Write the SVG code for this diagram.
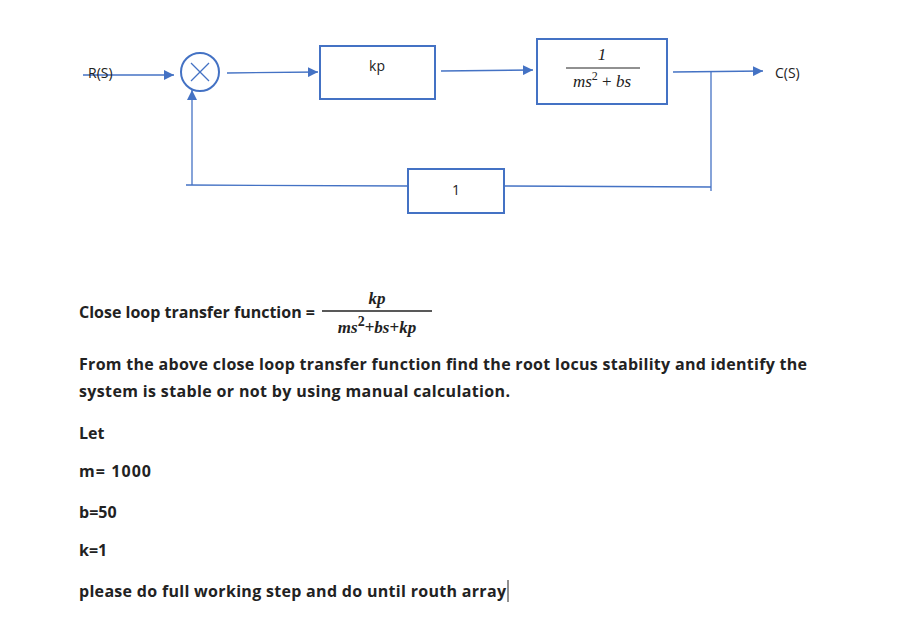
<svg xmlns="http://www.w3.org/2000/svg" width="914" height="631" viewBox="0 0 914 631">
<defs>
<marker id="ar" viewBox="0 0 10 10" refX="10" refY="5" markerWidth="10" markerHeight="10" markerUnits="userSpaceOnUse" orient="auto"><path d="M0,0 L10,5 L0,10 z" fill="#4472c4"/></marker>
<style>
.ln{stroke:#4472c4;stroke-width:1.3;fill:none}
.bx{stroke:#4472c4;stroke-width:2;fill:#fff}
.t{font-family:"Open Sans","Liberation Sans",sans-serif;font-size:14px;fill:#222}
.m{font-family:"Liberation Serif",serif;font-style:italic;font-size:17px;fill:#222}
.b{font-family:"Open Sans","Liberation Sans",sans-serif;font-weight:bold;font-size:16px;fill:#222}
</style>
</defs>
<rect width="914" height="631" fill="#fff"/>
<g id="connectors">
<line class="ln" x1="83" y1="75" x2="174" y2="75" marker-end="url(#ar)"/>
<line class="ln" x1="227" y1="73" x2="318" y2="72" marker-end="url(#ar)"/>
<line class="ln" x1="441" y1="71" x2="533" y2="70" marker-end="url(#ar)"/>
<line class="ln" x1="673" y1="72" x2="763" y2="71" marker-end="url(#ar)"/>
<line class="ln" x1="711" y1="72" x2="711" y2="191"/>
<line class="ln" x1="505" y1="186" x2="711" y2="187"/>
<line class="ln" x1="186" y1="185" x2="408" y2="186"/>
<line class="ln" x1="192" y1="185" x2="192" y2="90" marker-end="url(#ar)"/>
</g>
<g id="input"><text class="t" x="88" y="78">R(S)</text></g>
<g id="sum">
<circle cx="200" cy="72" r="19" class="bx" stroke-width="1.5"/>
<line class="ln" x1="191" y1="63" x2="209" y2="81"/>
<line class="ln" x1="209" y1="63" x2="191" y2="81"/>
</g>
<g id="kp"><rect class="bx" x="320" y="46" width="115" height="53"/><text class="t" x="377" y="71" text-anchor="middle">kp</text></g>
<g id="plant"><rect class="bx" x="537" y="39" width="130" height="65"/>
<text class="m" x="602" y="60" text-anchor="middle" font-style="normal">1</text>
<line x1="566" y1="68" x2="640" y2="68" stroke="#222" stroke-width="1"/>
<text class="m" x="602" y="87" text-anchor="middle" font-size="18">ms<tspan font-size="12" dy="-7" font-style="normal">2</tspan><tspan dy="7" font-style="normal"> + </tspan>bs</text></g>
<g id="output"><text class="t" x="775" y="78">C(S)</text></g>
<g id="feedback"><rect class="bx" x="408" y="169" width="96" height="44"/><text class="t" x="456" y="195" text-anchor="middle">1</text></g>
<g id="text">
<text class="b" x="79" y="318" font-size="14">Close loop transfer function =</text>
<text class="m" x="377" y="304" text-anchor="middle" font-weight="bold" font-size="19">kp</text>
<line x1="322" y1="311" x2="432" y2="311" stroke="#222" stroke-width="1.5"/>
<text class="m" x="377" y="333" text-anchor="middle" font-weight="bold" font-size="20">ms<tspan font-size="14" dy="-7" font-style="normal">2</tspan><tspan dy="7" font-style="normal">+</tspan>bs<tspan font-style="normal">+</tspan>kp</text>
<text class="b" x="79" y="370" textLength="728">From the above close loop transfer function find the root locus stability and identify the</text>
<text class="b" x="79" y="397" textLength="431">system is stable or not  by using manual calculation.</text>
<text class="b" x="79" y="439">Let</text>
<text class="b" x="79" y="477" textLength="72">m= 1000</text>
<text class="b" x="79" y="518">b=50</text>
<text class="b" x="79" y="556">k=1</text>
<text class="b" x="79" y="597" textLength="427">please do full working step and do until routh array</text>
<line x1="508" y1="580" x2="508" y2="602" stroke="#222" stroke-width="1"/>
</g>
</svg>
